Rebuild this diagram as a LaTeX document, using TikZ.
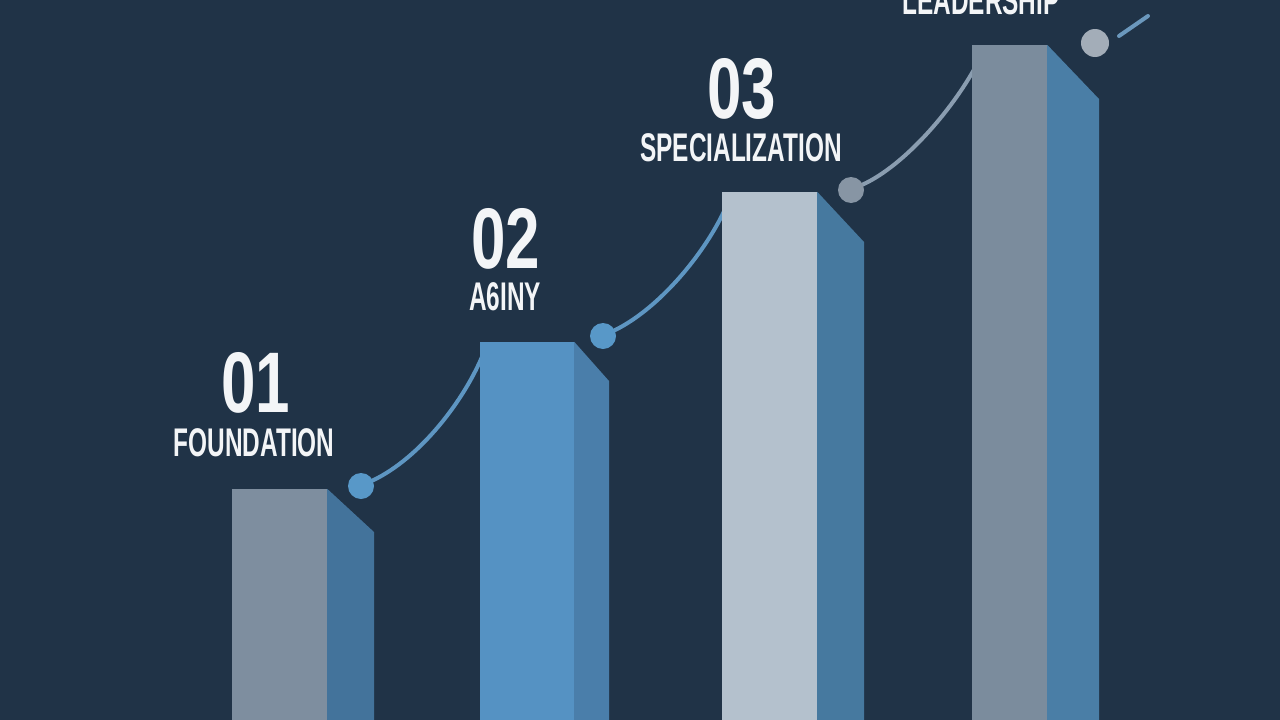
\documentclass[tikz,border=0pt]{standalone}
\usepackage{fontspec}
\newfontfamily\numfont[FakeStretch=0.72]{Liberation Sans Bold}
\newfontfamily\lblfont[FakeStretch=0.61]{Liberation Sans Bold}
\definecolor{bgc}{HTML}{203347}
\definecolor{frontA}{HTML}{7E8E9F}
\definecolor{sideA}{HTML}{43739B}
\definecolor{frontB}{HTML}{5592C3}
\definecolor{sideB}{HTML}{4A7EAA}
\definecolor{frontC}{HTML}{B4C1CD}
\definecolor{sideC}{HTML}{46799F}
\definecolor{frontD}{HTML}{7B8C9D}
\definecolor{sideD}{HTML}{4A7EA6}
\definecolor{lineB}{HTML}{5E96C2}
\definecolor{lineG}{HTML}{8A9DB0}
\definecolor{dotB}{HTML}{5898C8}
\definecolor{dotG}{HTML}{8795A4}
\definecolor{dotL}{HTML}{A3ADB8}
\definecolor{txt}{HTML}{F3F5F7}
\pgfdeclarelayer{back}
\pgfdeclarelayer{mid}
\pgfsetlayers{back,mid,main}
\tikzset{
  barface/.style={draw=none, inner sep=0pt, anchor=north west},
  dotnode/.style={circle, inner sep=0pt, minimum size=26pt, draw=none},
  conn/.style={line width=4pt, line cap=round},
  numtxt/.style={text=txt, inner sep=0pt, anchor=base, font=\numfont\fontsize{86}{86}\selectfont},
  lbltxt/.style={text=txt, inner sep=0pt, anchor=base, font=\lblfont\fontsize{40}{40}\selectfont}
}
\begin{document}
\begin{tikzpicture}[x=1pt,y=-1pt]
\begin{pgfonlayer}{back}
\fill[bgc] (0,0) rectangle (1280,720);
\end{pgfonlayer}
\useasboundingbox (0,0) rectangle (1280,720);

% bars (front faces)
\node[barface, fill=frontA, minimum width=95pt, minimum height=260pt] (bar1) at (232,489) {};
\node[barface, fill=frontB, minimum width=94pt, minimum height=400pt] (bar2) at (480,342) {};
\node[barface, fill=frontC, minimum width=95pt, minimum height=560pt] (bar3) at (722,192) {};
\node[barface, fill=frontD, minimum width=75pt, minimum height=700pt] (bar4) at (972,45) {};

% side faces, tucked under the front faces
\begin{pgfonlayer}{mid}
\fill[sideA] ([xshift=-2pt]bar1.north east) -- (bar1.north east) -- (374,532) -- (374,760) -- ([xshift=-2pt]bar1.south east) -- cycle;
\fill[sideB] ([xshift=-2pt]bar2.north east) -- (bar2.north east) -- (609,381) -- (609,760) -- ([xshift=-2pt]bar2.south east) -- cycle;
\fill[sideC] ([xshift=-2pt]bar3.north east) -- (bar3.north east) -- (864,242) -- (864,760) -- ([xshift=-2pt]bar3.south east) -- cycle;
\fill[sideD] ([xshift=-2pt]bar4.north east) -- (bar4.north east) -- (1099,99) -- (1099,760) -- ([xshift=-2pt]bar4.south east) -- cycle;
\end{pgfonlayer}

% dots
\node[dotnode, fill=dotB] (d1) at (361,486) {};
\node[dotnode, fill=dotB] (d2) at (603,336) {};
\node[dotnode, fill=dotG] (d3) at (851,190) {};
\node[dotnode, fill=dotL, minimum size=28pt] (d4) at (1095,43) {};

% connector end points on bar edges
\coordinate (c2) at (484,352);
\coordinate (c3) at (726,207);
\coordinate (c4) at (976,66);
\coordinate (t1) at (1119,36);
\coordinate (t2) at (1148,16);

% connectors (behind bars)
\begin{pgfonlayer}{back}
\draw[conn, lineB] (d1) .. controls (420,458) and (465,400) .. (c2);
\draw[conn, lineB] (d2) .. controls (660,308) and (706,252) .. (c3);
\draw[conn, lineG] (d3) .. controls (905,165) and (952,110) .. (c4);
\draw[conn, lineB!70!lineG] (t1) -- (t2);
\end{pgfonlayer}

% texts
\node[numtxt] (n1) at (256,412) {01};
\node[lbltxt] (l1) at (254,456) {FOUNDATION};
\node[numtxt] (n2) at (506,268) {02};
\node[lbltxt] (l2) at (505,310) {A6INY};
\node[numtxt] (n3) at (742,118) {03};
\node[lbltxt] (l3) at (741,161) {SPECIALIZATION};
\node[lbltxt] (l4) at (981,14) {LEADERSHIP};
\end{tikzpicture}
\end{document}
